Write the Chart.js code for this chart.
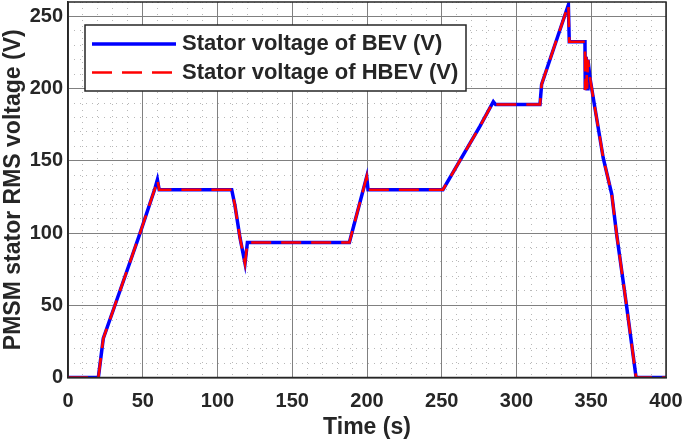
<!DOCTYPE html>
<html>
<head>
<meta charset="utf-8">
<script src="https://cdn.jsdelivr.net/npm/chart.js@4.4.1/dist/chart.umd.min.js"></script>
<style>
  html, body { margin: 0; padding: 0; background: #fff; }
  #wrap { width: 685px; height: 443px; }
</style>
</head>
<body>
<div id="wrap"><canvas id="chart" width="685" height="443"></canvas></div>
<script>
// Time axis (s) shared by both curves
const timeSec = [0, 20.3, 23.6, 31.4, 41.5, 48.2, 58.2, 59.8, 61, 109.5, 111.7, 115, 118.4, 120,
  188.2, 199.8, 200.7, 250.8, 275.6, 284.5, 286, 315.7, 316.8, 332.4, 334.7, 335.3, 345.8,
  346, 346.6, 347.2, 347.8, 349.2, 358, 363.7, 367, 373.7, 380, 400];

// Stator RMS voltage (V)
const bevVoltage = [0, 0, 27, 50, 80, 100, 131, 137, 130, 130, 119, 97, 79, 93.5,
  93.5, 139, 130, 130, 174, 191, 189, 189, 203, 251, 258, 232.5, 232.5,
  199, 222, 200, 220, 207, 152, 127, 99, 49, 0, 0];
const hbevVoltage = [0, 0, 27, 50, 80, 100, 131, 137, 130, 130, 119, 97, 79, 93.5,
  93.5, 139, 130, 130, 174, 191, 189, 189, 203, 251, 258, 232.5, 232.5,
  199, 222, 200, 220, 207, 152, 127, 99, 49, 0, 0];

const seriesLabels = ["Stator voltage of BEV (V)", "Stator voltage of HBEV (V)"];
const xTickValues = [0, 50, 100, 150, 200, 250, 300, 350, 400];
const yTickValues = [0, 50, 100, 150, 200, 250];
const xMinorStep = 10;
const yMinorStep = 10;

const FONT = "'Liberation Sans', Arial, sans-serif";
const TEXT = "#262626";

function toPoints(xs, ys) {
  return xs.map((x, i) => ({ x: x, y: ys[i] }));
}

function minorTicks(min, max, step) {
  const out = [];
  for (let v = min; v <= max; v += step) out.push({ value: v });
  return out;
}

// drop the half-label padding chart.js adds, so the plot fills the box
function noEdgePad(s) {
  s.paddingTop = 0;
  s.paddingBottom = 0;
  s.paddingLeft = 0;
  s.paddingRight = 0;
}

// box around the axes, like the matlab frame
const framePlugin = {
  id: "frame",
  afterDraw(chart) {
    const { ctx, chartArea: a } = chart;
    ctx.save();
    ctx.strokeStyle = TEXT;
    ctx.lineWidth = 1.5;
    ctx.strokeRect(a.left, a.top, a.right - a.left, a.bottom - a.top);
    ctx.restore();
  },
};

// legend drawn inside the plot, top left
const insideLegend = {
  id: "insideLegend",
  afterDraw(chart) {
    const { ctx, chartArea: a } = chart;
    const left = a.left + 17, top = a.top + 23, w = 381, h = 66;
    ctx.save();
    ctx.fillStyle = "#fff";
    ctx.fillRect(left, top, w, h);
    ctx.strokeStyle = TEXT;
    ctx.lineWidth = 1.5;
    ctx.strokeRect(left, top, w, h);
    ctx.font = "bold 22px " + FONT;
    ctx.textBaseline = "middle";
    chart.data.datasets.forEach((ds, i) => {
      const y = top + 19 + i * 28.5;
      ctx.beginPath();
      ctx.strokeStyle = ds.borderColor;
      ctx.lineWidth = ds.borderWidth;
      ctx.setLineDash(ds.borderDash || []);
      ctx.moveTo(left + 7, y);
      ctx.lineTo(left + 91, y);
      ctx.stroke();
      ctx.setLineDash([]);
      ctx.fillStyle = TEXT;
      ctx.fillText(ds.label, left + 97, y);
    });
    ctx.restore();
  },
};

new Chart(document.getElementById("chart"), {
  type: "line",
  data: {
    datasets: [
      {
        label: seriesLabels[0],
        data: toPoints(timeSec, bevVoltage),
        borderColor: "#0000ff",
        borderWidth: 3.5,
        pointRadius: 0,
        tension: 0,
        order: 2, // underneath the red dashes
      },
      {
        label: seriesLabels[1],
        data: toPoints(timeSec, hbevVoltage),
        borderColor: "#ff0000",
        borderWidth: 2.6,
        borderDash: [20, 10],
        pointRadius: 0,
        tension: 0,
        order: 1,
      },
    ],
  },
  options: {
    responsive: false,
    animation: false,
    layout: { padding: { left: 0, right: 19, top: 2, bottom: 0 } },
    plugins: {
      legend: { display: false },
      tooltip: { enabled: false },
    },
    scales: {
      xMinor: {
        type: "linear",
        position: "bottom",
        min: 0,
        max: 400,
        afterBuildTicks: (s) => { s.ticks = minorTicks(0, 400, xMinorStep); },
        afterFit: (s) => { s.height = 0; noEdgePad(s); },
        ticks: { display: false },
        grid: { color: "rgba(0,0,0,0.28)", lineWidth: 1, drawTicks: false },
        border: { display: false, dash: [1, 5] },
      },
      yMinor: {
        type: "linear",
        position: "left",
        min: 0,
        max: 260,
        afterBuildTicks: (s) => { s.ticks = minorTicks(0, 260, yMinorStep); },
        afterFit: (s) => { s.width = 0; noEdgePad(s); },
        ticks: { display: false },
        grid: { color: "rgba(0,0,0,0.28)", lineWidth: 1, drawTicks: false },
        border: { display: false, dash: [1, 5] },
      },
      x: {
        type: "linear",
        position: "bottom",
        min: 0,
        max: 400,
        afterBuildTicks: (s) => { s.ticks = xTickValues.map((v) => ({ value: v })); },
        afterFit: (s) => { s.height = 65.5; noEdgePad(s); },
        ticks: {
          color: TEXT,
          font: { family: FONT, size: 20, weight: "bold" },
          padding: 12,
          maxRotation: 0,
        },
        grid: { color: "#808080", lineWidth: 1, drawTicks: false },
        border: { color: TEXT, width: 1.5 },
        title: {
          display: true,
          text: "Time (s)",
          color: TEXT,
          font: { family: FONT, size: 23, weight: "bold" },
          padding: { top: 0, bottom: 2 },
        },
      },
      y: {
        type: "linear",
        position: "left",
        min: 0,
        max: 260,
        afterBuildTicks: (s) => { s.ticks = yTickValues.map((v) => ({ value: v })); },
        afterFit: (s) => { s.width = 68; noEdgePad(s); },
        ticks: {
          color: TEXT,
          font: { family: FONT, size: 20, weight: "bold" },
          padding: 5,
        },
        grid: { color: "#808080", lineWidth: 1, drawTicks: false },
        border: { color: TEXT, width: 1.5 },
        title: {
          display: true,
          text: "PMSM stator RMS voltage (V)",
          color: TEXT,
          font: { family: FONT, size: 23, weight: "bold" },
          padding: { top: 0, bottom: 0 },
        },
      },
    },
  },
  plugins: [framePlugin, insideLegend],
});
</script>
</body>
</html>
